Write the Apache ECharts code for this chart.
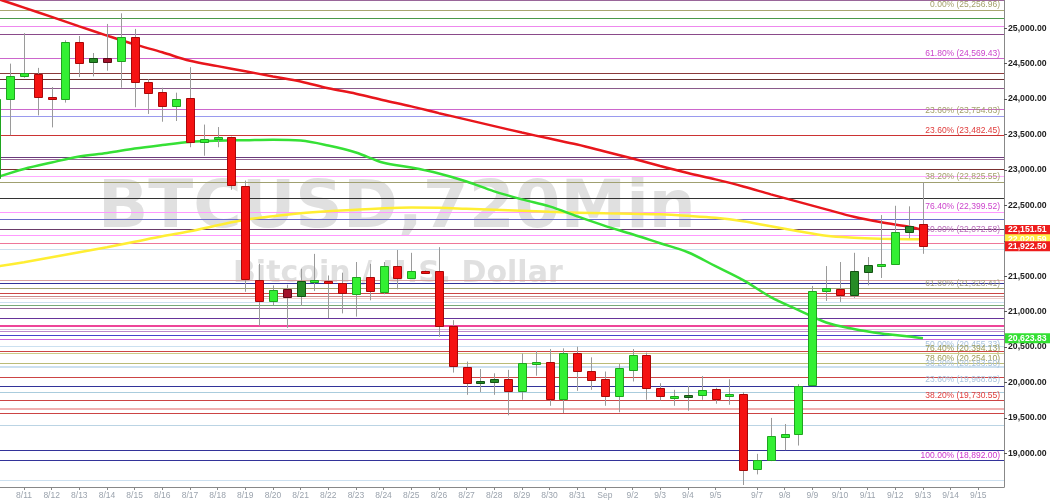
<!DOCTYPE html>
<html><head><meta charset="utf-8">
<script src="https://cdn.jsdelivr.net/npm/echarts@6/dist/echarts.min.js"></script>
<style>html,body{margin:0;padding:0;background:#fff}#c{width:1050px;height:500px}</style>
</head><body><div id="c"></div>
<script>
// ---- categories (12h candles) ----
const days = ['8/10','8/11','8/12','8/13','8/14','8/15','8/16','8/17','8/18','8/19','8/20','8/21','8/22','8/23','8/24','8/25','8/26','8/27','8/28','8/29','8/30','8/31','Sep','9/2','9/3','9/4','9/5','9/6','9/7','9/8','9/9','9/10','9/11','9/12','9/13','9/14','9/15'];
const halves = ['00:00','12:00'];
const missingSlots = ['9/6 00:00'];

// ---- OHLC ----
const open  = [22894,24000,24330,24354,24030,23995,24810,24525,24580,24530,24870,24236,24095,23900,24015,23395,23445,23463,22770,21450,21150,21325,21215,21430,21437,21410,21255,21490,21280,21640,21475,21575,21575,20800,20225,20005,20015,20045,19880,20275,20295,19766,20420,20163,20045,19803,20177,20388,19920,19805,19805,19826,19906,19805,19840,18773,18904,19232,19278,19966,21292,21325,21240,21568,21661,21675,22129,22237];
const close = [24005,24330,24370,24025,23995,24800,24520,24580,24530,24875,24235,24080,23900,24005,23395,23440,23465,22790,21455,21150,21310,21215,21430,21440,21405,21265,21490,21290,21640,21475,21575,21565,20800,20240,20005,20020,20055,19875,20280,20283,19770,20412,20163,20037,19803,20200,20388,19920,19803,19812,19822,19896,19770,19840,18765,18904,19241,19278,19952,21292,21334,21240,21573,21661,21675,22121,22213,21922.5];
const low   = [22880,23490,24300,23770,23600,23950,24310,24320,24400,24160,23885,23790,23680,23690,23320,23200,23320,22720,21280,20800,21090,20770,21080,21290,20910,20975,20930,21160,21245,21315,21470,21560,20645,20140,19826,19865,19826,19537,19756,20095,19671,19570,19882,19896,19671,19580,20014,19756,19747,19671,19601,19756,19700,19686,18553,18703,18890,19045,19110,19950,21151,21137,21194,21371,21475,21660,22036,21816];
const high  = [24010,24500,24930,24440,24170,24830,24890,24650,25060,25210,24990,24280,24160,24090,24450,23640,23605,23470,22850,21675,21370,21380,21605,21815,21510,21550,21700,21675,21700,21870,21830,21580,21910,20880,20295,20190,20130,20178,20410,20445,20472,20482,20505,20355,20155,20260,20472,20421,19990,19896,19952,20090,19925,20046,19865,18993,19500,19414,19976,21362,21643,21700,21830,21770,22363,22494,22486,22823];
const darkUp = [7,22,35,36,50,62,63,66];
const darkDown = [8,21];

// ---- moving averages (read at daily points) ----
const maIndex = [0,2,4,6,8,10,12,14,16,18,20,22,24,26,28,30,32,34,36,38,40,42,44,46,48,50,52,54,56,58,60,62,64,66,67];
const maRed    = [25420,25290,25160,25025,24896,24772,24660,24540,24465,24392,24319,24249,24153,24076,23984,23897,23801,23710,23618,23527,23442,23358,23260,23161,23056,22957,22866,22767,22655,22549,22443,22338,22260,22197,22151.51];
const maGreen  = [22894,23013,23105,23189,23239,23302,23351,23394,23412,23419,23426,23414,23344,23245,23100,23034,22950,22837,22697,22584,22486,22345,22211,22092,21965,21838,21641,21444,21205,21022,20846,20755,20692,20650,20623.83];
const maYellow = [21635,21698,21768,21838,21909,21986,22064,22134,22219,22296,22345,22387,22416,22437,22458,22468,22465,22451,22437,22423,22408,22397,22387,22380,22373,22352,22324,22275,22204,22134,22071,22043,22029,22022,22020.59];

// ---- horizontal levels ----
const levelValues = [25390,25256.96,25141,25022,24916,24569.43,24367,24282,24156,23851,23754.83,23482.45,23185,23151,23016,22912,22825.55,22594,22399.52,22303,22158,22072.58,21965,21881,21445,21398,21323.41,21257,21210,21184,21139,21093,21046,20906,20801,20755,20723,20661,20610,20506,20441,20413,20267,20216,20075,19943,19864,19752,19634,19569,19390,19043,18902,18617];
const levelColors = ['#9a669a','#a8a870','#4a9a4a','#ee88ee','#8a4a8a','#cc66cc','#8a3a3a','#6a3030','#8a5a8a','#cc66cc','#9a9aee','#cc3333','#6a3a7a','#9a6a9a','#7a3030','#ffaaff','#a0a070','#333333','#ff99ff','#6a6acc','#6a3a6a','#ff99ff','#ee7799','#cce0f0','#d9a0a0','#333399','#a0a070','#cc4444','#cc8888','#eecccc','#cce0f0','#77aa77','#9a6a9a','#663399','#ee4499','#ddbbdd','#bb88cc','#4444cc','#cc66dd','#cce0f0','#cc4444','#cccc88','#bbbb77','#cce0f0','#cc4444','#333399','#aaccdd','#cc4444','#f0b0b0','#cc4444','#bbd4e4','#333399','#333399','#cce0f0'];
const thickLevels = [20801,20216,19634];

const fibTexts  = ['0.00% (25,256.96)','61.80% (24,569.43)','23.60% (23,754.83)','23.60% (23,482.45)','38.20% (22,825.55)','76.40% (22,399.52)','50.00% (22,072.58)','61.80% (21,323.41)','50.00% (20,455.33)','76.40% (20,394.13)','78.60% (20,254.10)','38.20% (20,183.50)','23.60% (19,968.85)','38.20% (19,730.55)','100.00% (18,892.00)'];
const fibValues = [25256.96,24569.43,23754.83,23482.45,22825.55,22399.52,22072.58,21323.41,20455.33,20394.13,20254.10,20183.50,19968.85,19730.55,18892.00];
const fibColors = ['#a3a06a','#cc44cc','#a3a06a','#e03a3a','#a3a06a','#cc44cc','#b86ab8','#a3a080','#a9c3de','#9c9a55','#9c9a55','#a9c3de','#a9c3de','#e03a3a','#cc33cc'];

const endValues = [22151.51,22020.59,21922.50,20623.83];
const endTexts  = ['22,151.51','22,020.59','21,922.50','20,623.83'];
const endColors = ['#ee1c1c','#ffee44','#ee1c1c','#33e033'];

const yTicks = [19000,19500,20000,20500,21000,21500,22000,22500,23000,23500,24000,24500,25000];

// ---- build ----
const times = [];
days.forEach(d => halves.forEach(h => { const t = d + ' ' + h; if (!missingSlots.includes(t)) times.push(t); }));
const tickIdx = [], labelMap = {};
times.forEach((t, i) => { if (t.endsWith('00:00')) { tickIdx.push(i); labelMap[i] = t.split(' ')[0]; } });

const candleData = open.map((o, i) => [i, o, close[i], low[i], high[i], darkUp.includes(i) ? 1 : (darkDown.includes(i) ? 2 : 0)]);

function renderCandle(params, api) {
  const i = api.value(0), o = api.value(1), c = api.value(2), l = api.value(3), h = api.value(4), s = api.value(5);
  const po = api.coord([i, o]), pc = api.coord([i, c]), pl = api.coord([i, l]), ph = api.coord([i, h]);
  const up = c >= o;
  let fill, stroke;
  if (up) { if (s === 1) { fill = '#268c26'; stroke = '#145214'; } else { fill = '#33f033'; stroke = '#1fa51f'; } }
  else { if (s === 2) { fill = '#a3102a'; stroke = '#5e0a18'; } else { fill = '#f51212'; stroke = '#a80808'; } }
  const n = Math.round(po[0]);
  const xc = n + 0.5;
  const top = Math.min(po[1], pc[1]);
  let hg = Math.abs(po[1] - pc[1]); if (hg < 2) hg = 2;
  return { type: 'group', children: [
    { type: 'line', shape: { x1: xc, y1: ph[1], x2: xc, y2: pl[1] }, style: { stroke: '#9a9a9a', lineWidth: 1 } },
    { type: 'rect', shape: { x: n - 3.5, y: Math.round(top) + 0.5, width: 8, height: Math.round(hg) }, style: { fill: fill, stroke: stroke, lineWidth: 1 } }
  ]};
}

const levelItems = levelValues.map((v, k) => ({
  yAxis: v,
  lineStyle: { color: levelColors[k], width: thickLevels.includes(v) ? 2 : 1, type: 'solid' },
  label: { show: false }
}));
const fibItems = fibValues.map((v, k) => ({
  yAxis: v,
  lineStyle: { color: 'rgba(0,0,0,0)', width: 1 },
  label: { show: true, position: 'insideEndTop', formatter: fibTexts[k], color: fibColors[k], fontSize: 8.5, fontFamily: 'Liberation Sans', distance: [4, 1] }
}));
const endItems = endValues.map((v, k) => ({
  yAxis: v,
  lineStyle: { color: 'rgba(0,0,0,0)', width: 1 },
  label: { show: true, position: 'end', distance: 1, formatter: endTexts[k], color: '#fff', backgroundColor: endColors[k], fontSize: 8.7, lineHeight: 10, fontWeight: 'bold', fontFamily: 'Liberation Sans', padding: [0, 4, 0, 3] }
}));

function maSeries(vals, color) {
  return { type: 'line', data: maIndex.map((i, k) => [i, vals[k]]), showSymbol: false, smooth: 0.35, silent: true, z: 3,
    lineStyle: { color: color, width: 2.5 }, animation: false };
}

const chart = echarts.init(document.getElementById('c'), null, { renderer: 'canvas' });
chart.setOption({
  animation: false,
  backgroundColor: '#ffffff',
  grid: { left: 0, top: 0, right: 46, bottom: 12, containLabel: false },
  xAxis: {
    type: 'value', min: 0.265, max: 72.86,
    axisLine: { show: true, lineStyle: { color: '#888' } },
    axisTick: { show: true, customValues: tickIdx, length: 3, lineStyle: { color: '#888' } },
    axisLabel: { customValues: tickIdx, formatter: v => labelMap[Math.round(v)] || '', color: '#9ba3ad', fontSize: 8.5, fontFamily: 'Liberation Sans', margin: 4 },
    splitLine: { show: false }
  },
  yAxis: {
    type: 'value', position: 'right', min: 18525, max: 25398,
    axisLine: { show: true, lineStyle: { color: '#888' } },
    axisTick: { show: true, customValues: yTicks, length: 3, lineStyle: { color: '#555' } },
    axisLabel: { customValues: yTicks, formatter: v => v.toLocaleString('en-US', { minimumFractionDigits: 2, maximumFractionDigits: 2 }), color: '#222', fontSize: 8.7, fontWeight: 'bold', fontFamily: 'Liberation Sans', margin: 4 },
    splitLine: { show: false }
  },
  graphic: [
    { type: 'text', x: 98, y: 210, z: -10, silent: true, style: { text: 'BTCUSD,720Min', font: 'bold 66px "DejaVu Sans"', fill: '#e0e0e0', verticalAlign: 'middle' } },
    { type: 'text', x: 233, y: 274, z: -10, silent: true, style: { text: 'Bitcoin / U.S. Dollar', font: 'bold 30px "DejaVu Sans"', fill: '#e0e0e0', verticalAlign: 'middle' } }
  ],
  series: [
    { type: 'line', data: [], silent: true, z: 1,
      markLine: { silent: true, symbol: 'none', animation: false, z: 1, emphasis: { disabled: true }, data: levelItems.concat(fibItems) } },
    maSeries(maYellow, '#ffee33'),
    maSeries(maGreen, '#36e036'),
    maSeries(maRed, '#e8161c'),
    { type: 'custom', renderItem: renderCandle, data: candleData, encode: { x: 0, y: [1, 2, 3, 4] }, z: 5, clip: true, silent: true },
    { type: 'line', data: [], silent: true, z: 20,
      markLine: { silent: true, symbol: 'none', animation: false, z: 20, emphasis: { disabled: true }, data: endItems } }
  ]
});
</script>
</body></html>
